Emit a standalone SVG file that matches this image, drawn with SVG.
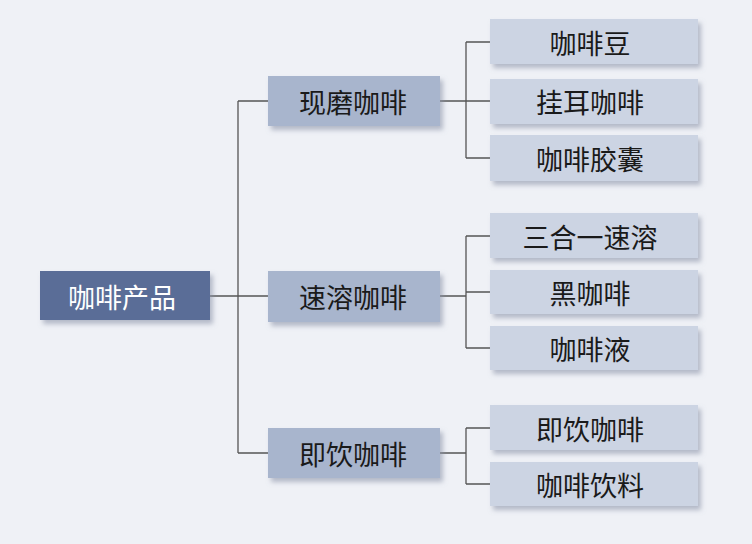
<svg xmlns="http://www.w3.org/2000/svg" width="752" height="544" viewBox="0 0 752 544">
<defs>
<filter id="sh" x="-10%" y="-20%" width="130%" height="160%"><feDropShadow dx="3" dy="4" stdDeviation="2.5" flood-color="#8a93a8" flood-opacity="0.6"/></filter>
</defs>
<style>
text{font-family:"Noto Sans CJK SC","Noto Sans",sans-serif;font-size:27px;text-anchor:middle;dominant-baseline:central;fill:#1a1a1a}
.root{fill:#5a6d97}
.mid{fill:#a8b5cd}
.leaf{fill:#ccd4e3}
.c{stroke:#555;stroke-width:1.3;fill:none}
</style>
<rect width="752" height="544" fill="#eff1f6"/>
<g id="connectors">
<path class="c" d="M210 296H238M238 101V453M238 101H268M238 296H268M238 453H268"/>
<path class="c" d="M440 101H466M466 42V158M466 42H490M466 101H490M466 158H490"/>
<path class="c" d="M440 296H466M466 236V348M466 236H490M466 292H490M466 348H490"/>
<path class="c" d="M440 453H466M466 428V484M466 428H490M466 484H490"/>
</g>
<g id="root"><rect class="root" x="40" y="271" width="170" height="49" filter="url(#sh)"/><text x="122" y="296" fill="#fff" style="fill:#fff">咖啡产品</text></g>
<g id="m1"><rect class="mid" x="268" y="76" width="172" height="50" filter="url(#sh)"/><text x="353" y="101">现磨咖啡</text></g>
<g id="m2"><rect class="mid" x="268" y="271" width="172" height="51" filter="url(#sh)"/><text x="353" y="296">速溶咖啡</text></g>
<g id="m3"><rect class="mid" x="268" y="428" width="172" height="50" filter="url(#sh)"/><text x="353" y="453">即饮咖啡</text></g>
<g id="l1"><rect class="leaf" x="490" y="19" width="208" height="45" filter="url(#sh)"/><text x="590" y="42">咖啡豆</text></g>
<g id="l2"><rect class="leaf" x="490" y="79" width="208" height="45" filter="url(#sh)"/><text x="590" y="101">挂耳咖啡</text></g>
<g id="l3"><rect class="leaf" x="490" y="135" width="208" height="46" filter="url(#sh)"/><text x="590" y="158">咖啡胶囊</text></g>
<g id="l4"><rect class="leaf" x="490" y="213" width="208" height="45" filter="url(#sh)"/><text x="590" y="236">三合一速溶</text></g>
<g id="l5"><rect class="leaf" x="490" y="270" width="208" height="44" filter="url(#sh)"/><text x="590" y="292">黑咖啡</text></g>
<g id="l6"><rect class="leaf" x="490" y="326" width="208" height="44" filter="url(#sh)"/><text x="590" y="348">咖啡液</text></g>
<g id="l7"><rect class="leaf" x="490" y="405" width="208" height="45" filter="url(#sh)"/><text x="590" y="428">即饮咖啡</text></g>
<g id="l8"><rect class="leaf" x="490" y="462" width="208" height="44" filter="url(#sh)"/><text x="590" y="484">咖啡饮料</text></g>
</svg>
